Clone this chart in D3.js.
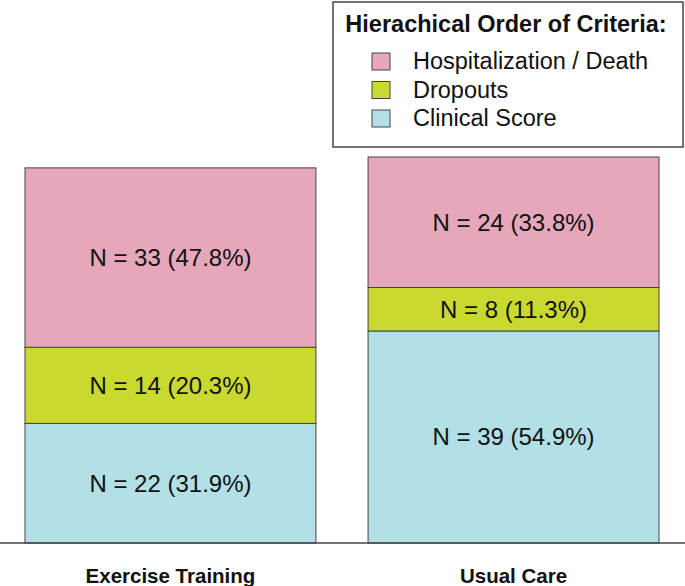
<!DOCTYPE html>
<html>
<head>
<meta charset="utf-8">
<script src="https://cdn.jsdelivr.net/npm/d3@7"></script>
<style>
  body { margin: 0; background: #fff; }
  text { font-family: "Liberation Sans", Arial, sans-serif; }
</style>
</head>
<body>
<div id="chart"></div>
<script>
var groups = ["Exercise Training", "Usual Care"];
var criteria = ["Hospitalization / Death", "Dropouts", "Clinical Score"];
var clinicalScore = [22, 39];
var dropouts = [14, 8];
var hospDeath = [33, 24];
var percentLabels = [["31.9%", "20.3%", "47.8%"], ["54.9%", "11.3%", "33.8%"]];
var colors = ["#e6a7ba", "#c9d930", "#b3dfe6"];

var width = 685, height = 586;
var svg = d3.select("#chart").append("svg")
    .attr("width", width)
    .attr("height", height);

var rows = groups.map(function (g, i) {
    return { group: g, clinical: clinicalScore[i], dropouts: dropouts[i], hosp: hospDeath[i], idx: i };
});
var keys = ["clinical", "dropouts", "hosp"];
var fillFor = { hosp: colors[0], dropouts: colors[1], clinical: colors[2] };
var series = d3.stack().keys(keys)(rows);

var x = d3.scaleBand()
    .domain(groups)
    .range([25, 659])
    .paddingInner(0.152)
    .paddingOuter(0);
var y = d3.scaleLinear()
    .domain([0, 71])
    .range([543, 157]);

var layer = svg.selectAll("g.layer")
    .data(series).enter()
    .append("g")
    .attr("class", "layer")
    .attr("fill", function (d) { return fillFor[d.key]; });

layer.selectAll("rect")
    .data(function (d) { return d; }).enter()
    .append("rect")
    .attr("x", function (d) { return x(d.data.group); })
    .attr("width", x.bandwidth())
    .attr("y", function (d) { return y(d[1]); })
    .attr("height", function (d) { return y(d[0]) - y(d[1]); })
    .attr("stroke", "#444")
    .attr("stroke-width", 1);

layer.each(function (s, k) {
    d3.select(this).selectAll("text")
        .data(s).enter()
        .append("text")
        .attr("x", function (d) { return x(d.data.group) + x.bandwidth() / 2; })
        .attr("y", function (d) { return (y(d[0]) + y(d[1])) / 2; })
        .attr("dy", "0.35em")
        .attr("text-anchor", "middle")
        .attr("font-size", 24)
        .attr("fill", "#111")
        .text(function (d) {
            return "N = " + (d[1] - d[0]) + " (" + percentLabels[d.data.idx][k] + ")";
        });
});

// baseline
svg.append("line")
    .attr("x1", 0).attr("x2", width)
    .attr("y1", y(0)).attr("y2", y(0))
    .attr("stroke", "#444")
    .attr("stroke-width", 1.5);

var xAxis = svg.append("g")
    .attr("transform", "translate(0," + y(0) + ")")
    .call(d3.axisBottom(x).tickSize(0).tickPadding(25));
xAxis.select(".domain").remove();
xAxis.selectAll("text")
    .attr("font-size", 20.5)
    .attr("font-weight", "bold")
    .attr("fill", "#111")
    .style("font-family", "'Liberation Sans', Arial, sans-serif");

// legend
var legend = svg.append("g").attr("transform", "translate(333,2)");
legend.append("rect")
    .attr("width", 350).attr("height", 145)
    .attr("fill", "#fff")
    .attr("stroke", "#444")
    .attr("stroke-width", 1.5);
legend.append("text")
    .attr("x", 173).attr("y", 30)
    .attr("text-anchor", "middle")
    .attr("font-size", 23.5)
    .attr("font-weight", "bold")
    .attr("fill", "#111")
    .text("Hierachical Order of Criteria:");
var item = legend.selectAll("g.item")
    .data(criteria).enter()
    .append("g")
    .attr("class", "item")
    .attr("transform", function (d, i) { return "translate(0," + (59 + i * 28.5) + ")"; });
item.append("rect")
    .attr("x", 39).attr("y", -8)
    .attr("width", 18).attr("height", 17)
    .attr("fill", function (d, i) { return colors[i]; })
    .attr("stroke", "#444");
item.append("text")
    .attr("x", 80).attr("dy", "0.35em")
    .attr("font-size", 23.5)
    .attr("fill", "#111")
    .text(function (d) { return d; });
</script>
</body>
</html>
